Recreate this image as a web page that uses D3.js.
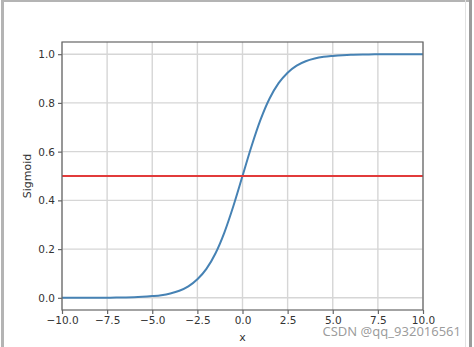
<!DOCTYPE html>
<html>
<head>
<meta charset="utf-8">
<script src="https://cdn.jsdelivr.net/npm/d3@7"></script>
<style>
  body { margin: 0; background: #fff; }
  text { font-family: "DejaVu Sans", sans-serif; }
</style>
</head>
<body>
<div id="canvas"></div>
<script>
const width = 474;
const height = 347;

// values
const xValues = [-10, -9, -8, -7, -6, -5, -4.5, -4, -3.5, -3, -2.5, -2, -1.5, -1, -0.5, 0,
                 0.5, 1, 1.5, 2, 2.5, 3, 3.5, 4, 4.5, 5, 6, 7, 8, 9, 10];
const sigmoidValues = [0.000, 0.000, 0.000, 0.001, 0.002, 0.007, 0.011, 0.018, 0.029, 0.047, 0.076,
                       0.119, 0.182, 0.269, 0.378, 0.500, 0.622, 0.731, 0.818, 0.881, 0.924, 0.953,
                       0.971, 0.982, 0.989, 0.993, 0.998, 0.999, 1.000, 1.000, 1.000];
const thresholdValue = 0.5;
const xTicks = [-10, -7.5, -5, -2.5, 0, 2.5, 5, 7.5, 10];
const yTicks = [0, 0.2, 0.4, 0.6, 0.8, 1.0];

const plot = {left: 62, right: 423, top: 42, bottom: 310};

const svg = d3.select("#canvas")
    .append("svg")
    .attr("width", width)
    .attr("height", height)

// screenshot frame
svg.append("rect").attr("x", 1).attr("y", 0).attr("width", 3).attr("height", height).attr("fill", "#b4b4b4")
svg.append("rect").attr("x", 1).attr("y", 0).attr("width", 471).attr("height", 2).attr("fill", "#b4b4b4")
svg.append("rect").attr("x", 465).attr("y", 0).attr("width", 1).attr("height", height).attr("fill", "#e2e2e2")
svg.append("rect").attr("x", 469).attr("y", 0).attr("width", 3).attr("height", height).attr("fill", "#9c9c9c")

var xScale = d3.scaleLinear().domain([-10, 10]).range([plot.left, plot.right])
var yScale = d3.scaleLinear().domain([-0.05, 1.05]).range([plot.bottom, plot.top])

// grid
svg.append("g")
    .selectAll("line")
    .data(xTicks)
    .join("line")
    .attr("x1", d => xScale(d)).attr("x2", d => xScale(d))
    .attr("y1", plot.top).attr("y2", plot.bottom)
    .attr("stroke", "#d6d6d6").attr("stroke-width", 1.4)

svg.append("g")
    .selectAll("line")
    .data(yTicks)
    .join("line")
    .attr("x1", plot.left).attr("x2", plot.right)
    .attr("y1", d => yScale(d)).attr("y2", d => yScale(d))
    .attr("stroke", "#d6d6d6").attr("stroke-width", 1.4)

// axes
var xAxis = d3.axisBottom(xScale).tickValues(xTicks).tickSize(4).tickPadding(3)
    .tickFormat(d => d3.format(".1f")(d).replace("-", "\u2212"))
var yAxis = d3.axisLeft(yScale).tickValues(yTicks).tickSize(4).tickPadding(3)
    .tickFormat(d3.format(".1f"))

svg.append("g").attr("transform", `translate(0,${plot.bottom})`).call(xAxis)
    .call(g => g.select(".domain").remove())
svg.append("g").attr("transform", `translate(${plot.left},0)`).call(yAxis)
    .call(g => g.select(".domain").remove())

svg.selectAll(".tick line").attr("stroke", "#666").attr("stroke-width", 1.2)
svg.selectAll(".tick text").attr("fill", "#333").attr("font-size", 10.5)
    .attr("font-family", "DejaVu Sans")

// line
var line = d3.line()
    .x((d, i) => xScale(xValues[i]))
    .y(d => yScale(d))
    .curve(d3.curveMonotoneX)

svg.append("path")
    .datum(sigmoidValues)
    .attr("d", line)
    .attr("fill", "none")
    .attr("stroke", "#4682b4")
    .attr("stroke-width", 2)

svg.append("line")
    .attr("x1", xScale(-10)).attr("x2", xScale(10))
    .attr("y1", yScale(thresholdValue)).attr("y2", yScale(thresholdValue))
    .attr("stroke", "#e23b3b")
    .attr("stroke-width", 2)

// frame
svg.append("rect")
    .attr("x", plot.left).attr("y", plot.top)
    .attr("width", plot.right - plot.left).attr("height", plot.bottom - plot.top)
    .attr("fill", "none").attr("stroke", "#666").attr("stroke-width", 1.2)

// labels
svg.append("text")
    .attr("x", xScale(0)).attr("y", 341)
    .attr("text-anchor", "middle").attr("font-size", 11).attr("fill", "#333")
    .text("x")

svg.append("text")
    .attr("transform", `translate(31,${(plot.top + plot.bottom) / 2}) rotate(-90)`)
    .attr("text-anchor", "middle").attr("font-size", 11).attr("fill", "#333")
    .text("Sigmoid")

// watermark
svg.append("text")
    .attr("x", 461).attr("y", 336)
    .attr("text-anchor", "end")
    .attr("font-size", 13)
    .attr("fill", "#8a8a8a")
    .attr("fill-opacity", 0.85)
    .style("font-family", "'Noto Sans', sans-serif")
    .text("CSDN @qq_932016561")
</script>
</body>
</html>
